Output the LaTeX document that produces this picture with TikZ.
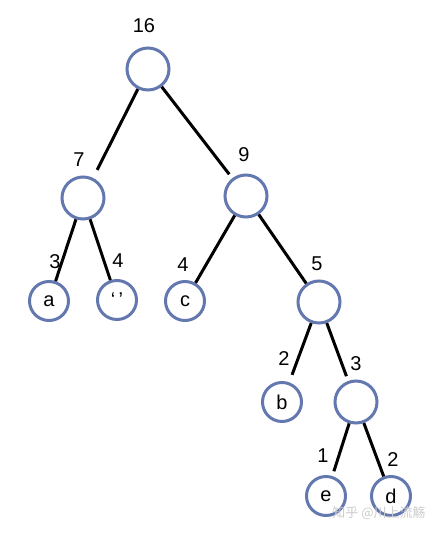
\documentclass[tikz,border=0pt]{standalone}
\usepackage{fontspec}
\setmainfont{Liberation Sans}
\newfontfamily\cjk{Noto Sans CJK SC}
\usetikzlibrary{positioning}
\definecolor{nodeblue}{RGB}{100,120,176}
\tikzstyle{branch} = [circle, draw=nodeblue, line width=3pt, minimum size=42pt, inner sep=0pt]
\tikzstyle{leaf} = [circle, draw=nodeblue, line width=3pt, minimum size=39pt, inner sep=0pt, font=\fontsize{20}{24}\selectfont]
\tikzstyle{weight} = [node distance=39pt, inner sep=0pt, font=\fontsize{20}{24}\selectfont]
\tikzstyle{edge} = [line width=3pt]
\begin{document}
\begin{tikzpicture}[node distance=100pt]
			\useasboundingbox (0,0) rectangle (438pt,-533pt);
			\node(root)[branch] at (148pt,-69pt) {};
			\node(n7)[branch, below of=root, xshift=-65pt, yshift=-29pt]{};
			\node(n9)[branch, below of=root, xshift=98pt, yshift=-27pt]{};
			\node(a)[leaf, below of=n7, xshift=-34pt, yshift=-3pt]{a};
			\node(sp)[leaf, below of=n7, xshift=34pt, yshift=-2pt]{‘\,’};
			\node(c)[leaf, below of=n9, xshift=-61pt, yshift=-5pt]{c};
			\node(n5)[branch, below of=n9, xshift=73pt, yshift=-6pt]{};
			\node(b)[leaf, below of=n5, xshift=-37pt]{b};
			\node(n3)[branch, below of=n5, xshift=37pt]{};
			\node(e)[leaf, below of=n3, xshift=-30pt, yshift=6pt]{e};
			\node(d)[leaf, below of=n3, xshift=35pt, yshift=6pt]{d};
			% Labels
			\node(w16)[weight, above of=root, xshift=-4pt, yshift=4pt]{16};
			\node(w7)[weight, above of=n7, xshift=-4pt, yshift=-1pt]{7};
			\node(w9)[weight, above of=n9, xshift=-2pt, yshift=2pt]{9};
			\node(wa)[weight, above of=a, xshift=6pt]{3};
			\node(wsp)[weight, above of=sp, xshift=1pt]{4};
			\node(wc)[weight, above of=c, xshift=-2pt, yshift=-3pt]{4};
			\node(w5)[weight, above of=n5, xshift=-2pt, yshift=-1pt]{5};
			\node(wb)[weight, above of=b, xshift=2pt, yshift=4pt]{2};
			\node(w3)[weight, above of=n3, yshift=-1pt]{3};
			\node(we)[weight, above of=e, xshift=-3pt, yshift=1pt]{1};
			\node(wd)[weight, above of=d, xshift=2pt, yshift=-3pt]{2};
			\draw [edge, shorten >=9pt] (root) -- (n7);
			\draw [edge, shorten >=5pt] (root) -- (n9);
			\draw [edge] (n7) -- (a);
			\draw [edge] (n7) -- (sp);
			\draw [edge] (n9) -- (c);
			\draw [edge] (n9) -- (n5);
			\draw [edge, shorten >=8pt] (n5) -- (b);
			\draw [edge, shorten >=5pt] (n5) -- (n3);
			\draw [edge, shorten >=5pt] (n3) -- (e);
			\draw [edge] (n3) -- (d);
			\node(mark)[font=\cjk\fontsize{13}{15}\selectfont, text=gray!40] at (379pt,-513pt) {知乎 @川上流觞};
		\end{tikzpicture}
\end{document}
